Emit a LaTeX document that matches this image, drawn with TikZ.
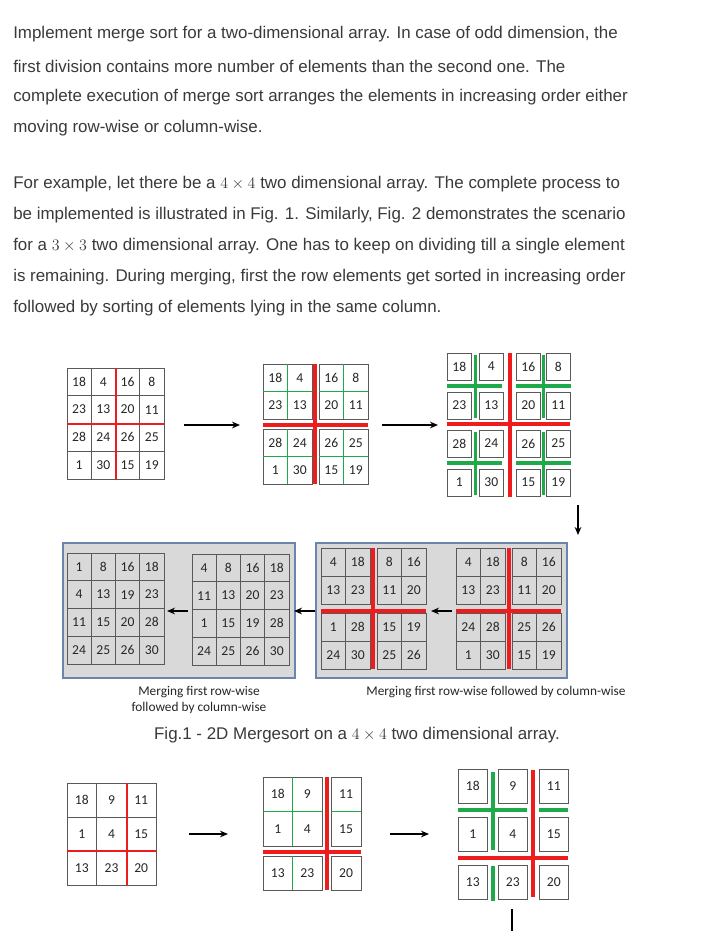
\documentclass[tikz,border=0pt]{standalone}
\usepackage{fontspec}
\setmainfont{Liberation Sans}
\newfontfamily\calib{Carlito}
\usetikzlibrary{arrows.meta}
\definecolor{txt}{HTML}{3A3A3A}
\definecolor{gr}{HTML}{1FAA4A}
\definecolor{rd}{HTML}{EE1C1C}
\definecolor{boxf}{HTML}{D9D9D9}
\definecolor{boxd}{HTML}{6A86AE}
\tikzset{
 para/.style={anchor=west,text=txt,font=\fontsize{12.7}{15}\selectfont,inner sep=0},
 cellb/.style={draw=black!65,line width=0.7pt},
 celt/.style={font=\calib\fontsize{10.2}{12}\selectfont,text=black!85,inner sep=0},
 grl/.style={draw=gr,line width=1.2pt},
 grk/.style={draw=gr,line width=2.6pt},
 rdl/.style={draw=rd,line width=1.4pt},
 rdk/.style={draw=rd,line width=3pt},
 arr/.style={draw=black,line width=1.1pt,-{Stealth[length=6pt,width=5pt]}},
 graybox/.style={draw=boxd,fill=boxf,line width=0.9pt},
 captxt/.style={font=\calib\fontsize{10}{12}\selectfont,text=black!85,align=center,inner sep=0}
}
\newcommand\cel[5]{%
 \pgfmathsetmacro\cxa{#1}\pgfmathsetmacro\cya{#2}\pgfmathsetmacro\cxb{#3}\pgfmathsetmacro\cyb{#4}%
 \pgfmathsetmacro\cxm{(\cxa+\cxb)/2}\pgfmathsetmacro\cym{(\cya+\cyb)/2}%
 \draw[cellb] (\cxa,\cya) rectangle (\cxb,\cyb); \node[celt] at (\cxm,\cym) {#5};}
\newcommand\gridd[5]{\foreach \rw [count=\r] in {#5} {\foreach \v [count=\c] in \rw {\cel{#1+(\c-1)*#3}{#2+(\r-1)*#4}{#1+\c*#3}{#2+\r*#4}{\v}}}}
\begin{document}
\begin{tikzpicture}[x=0.75pt,y=-0.75pt]
\useasboundingbox[fill=white] (0,0) rectangle (716,931);
% text
\node[para] (p1) at (13,34) {Implement merge sort for a two-dimensional array. In case of odd dimension, the};
\node[para] (p2) at (13,66) {first division contains more number of elements than the second one. The};
\node[para] (p3) at (13,97) {complete execution of merge sort arranges the elements in increasing order either};
\node[para] (p4) at (13,128) {moving row-wise or column-wise.};
\node[para] (p5) at (13,184) {For example, let there be a $4\times4$ two dimensional array. The complete process to};
\node[para] (p6) at (13,215) {be implemented is illustrated in Fig. 1. Similarly, Fig. 2 demonstrates the scenario};
\node[para] (p7) at (13,246) {for a $3\times3$ two dimensional array. One has to keep on dividing till a single element};
\node[para] (p8) at (13,277) {is remaining. During merging, first the row elements get sorted in increasing order};
\node[para] (p9) at (13,308) {followed by sorting of elements lying in the same column.};
% ---- Grid A
\gridd{67}{368}{24.25}{27.75}{{18,4,16,8},{23,13,20,11},{28,24,26,25},{1,30,15,19}}
\draw[rdl] (116,368) -- (116,479); \draw[rdl] (67,424) -- (164,424);
\coordinate (a1s) at (184,425); \coordinate (a1e) at (240,425);
\draw[arr] (a1s) -- (a1e);
% ---- Grid B
\gridd{263}{364}{24.5}{27.5}{{18,4},{23,13}}
\gridd{319}{364}{24.5}{27.5}{{16,8},{20,11}}
\gridd{263}{429}{24.5}{27.5}{{28,24},{1,30}}
\gridd{319}{429}{24.5}{27.5}{{26,25},{15,19}}
\foreach \x in {263,319} \foreach \y in {364,429} {
  \draw[grl] (\x+24.5,\y) -- (\x+24.5,\y+55); \draw[grl] (\x,\y+27.5) -- (\x+49,\y+27.5);}
\draw[rdk] (315,364) -- (315,484); \draw[rdk] (263,425) -- (368,425);
\coordinate (a2s) at (382,425); \coordinate (a2e) at (438,425);
\draw[arr] (a2s) -- (a2e);
% ---- Grid C
\foreach \rw [count=\r] in {{18,4,16,8},{23,13,20,11},{28,24,26,25},{1,30,15,19}} {
  \foreach \v [count=\c] in \rw {
    \pgfmathsetmacro\xa{{0,447,479,516,546}[\c]}
    \pgfmathsetmacro\ya{{0,353,392,430,469}[\r]}
    \cel{\xa}{\ya}{\xa+24.5}{\ya+27}{\v}}}
\foreach \x/\m in {447/475.5,516/543.5} \foreach \y in {353,430} {
  \draw[grk] (\m,\y+2) -- (\m,\y+65); \draw[grk] (\x,\y+33) -- (\x+55,\y+33);}
\draw[rdk] (510,353) -- (510,497); \draw[rdk] (447,424) -- (570,424);
\coordinate (a3s) at (578,505); \coordinate (a3e) at (578,535);
\draw[arr] (a3s) -- (a3e);
% ---- Row 2 boxes
\draw[graybox] (63,543) rectangle (295,678);
\draw[graybox] (316,543) rectangle (567,678);
\gridd{67}{553}{24.25}{27.75}{{1,8,16,18},{4,13,19,23},{11,15,20,28},{24,25,26,30}}
\gridd{192}{554}{24.25}{27.75}{{4,8,16,18},{11,13,20,23},{1,15,19,28},{24,25,26,30}}
\gridd{321}{548}{24.5}{28}{{4,18},{13,23}}
\gridd{377}{548}{24.5}{28}{{8,16},{11,20}}
\gridd{321}{613}{24.5}{28}{{1,28},{24,30}}
\gridd{377}{613}{24.5}{28}{{15,19},{25,26}}
\draw[rdk] (373,548) -- (373,669); \draw[rdk] (321,611) -- (426,611);
\gridd{456}{548}{24.5}{28}{{4,18},{13,23}}
\gridd{512}{548}{24.5}{28}{{8,16},{11,20}}
\gridd{456}{613}{24.5}{28}{{24,28},{1,30}}
\gridd{512}{613}{24.5}{28}{{25,26},{15,19}}
\draw[rdk] (509,548) -- (509,669); \draw[rdk] (456,611) -- (561,611);
\coordinate (b1s) at (452,611); \coordinate (b1e) at (431,611);
\draw[arr] (b1s) -- (b1e);
\coordinate (b2s) at (315,611); \coordinate (b2e) at (294,611);
\draw[arr] (b2s) -- (b2e);
\coordinate (b3s) at (188,611); \coordinate (b3e) at (167,611);
\draw[arr] (b3s) -- (b3e);
\node[captxt] (c1) at (199,700) {Merging first row-wise\\followed by column-wise};
\node[captxt] (c2) at (496,692) {Merging first row-wise followed by column-wise};
\node[text=txt,font=\fontsize{12.7}{15}\selectfont,inner sep=0] (fig1) at (357,735) {Fig.1 - 2D Mergesort on a $4\times4$ two dimensional array.};
% ---- Row 3 Grid H
\gridd{67}{783}{29.67}{34}{{18,9,11},{1,4,15},{13,23,20}}
\draw[rdl] (127,783) -- (127,885); \draw[rdl] (67,851) -- (156,851);
\coordinate (d1s) at (189,834); \coordinate (d1e) at (228,834);
\draw[arr] (d1s) -- (d1e);
% Grid I
\gridd{263}{777}{29.5}{34.5}{{18,9},{1,4}}
\gridd{331}{777}{30}{34.5}{{11},{15}}
\gridd{263}{856}{29.5}{34}{{13,23}}
\gridd{331}{856}{30}{34}{{20}}
\draw[grl] (292.5,777) -- (292.5,846); \draw[grl] (263,811.5) -- (322,811.5);
\draw[grl] (331,811.5) -- (361,811.5); \draw[grl] (292.5,856) -- (292.5,890);
\draw[rdk] (327,777) -- (327,890); \draw[rdk] (263,852) -- (361,852);
\coordinate (d2s) at (390,834); \coordinate (d2e) at (429,834);
\draw[arr] (d2s) -- (d2e);
% Grid J
\foreach \rw [count=\r] in {{18,9,11},{1,4,15},{13,23,20}} {
  \foreach \v [count=\c] in \rw {
    \pgfmathsetmacro\xa{{0,458,498,539}[\c]}
    \pgfmathsetmacro\ya{{0,769,817,865}[\r]}
    \cel{\xa}{\ya}{\xa+29.5}{\ya+34}{\v}}}
\draw[grk] (493,772) -- (493,850); \draw[grk] (458,810) -- (527,810);
\draw[grk] (539,810) -- (568,810); \draw[grk] (493,866) -- (493,901);
\draw[rdk] (533,770) -- (533,897); \draw[rdk] (458,858) -- (568,858);
\coordinate (d3s) at (512,909); \coordinate (d3e) at (512,931);
\draw[line width=1.1pt] (d3s) -- (d3e);
\end{tikzpicture}
\end{document}
